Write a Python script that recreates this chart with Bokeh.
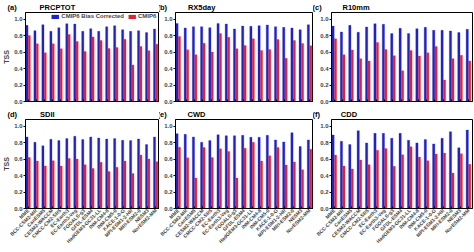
import math
from bokeh.plotting import figure
from bokeh.layouts import gridplot
from bokeh.models import FixedTicker, Range1d, PrintfTickFormatter, Title
from bokeh.embed import file_html
from bokeh.resources import INLINE

models = ["MME", "BCC-CSM2-MR", "CanESM5", "CESM2-WACCM", "CMCC-CM2-SR5", "EC-Earth3",
          "EC-Earth3-Veg", "FGOALS-g3", "GFDL-ESM4", "HadGEM3-GC31-LL", "INM-CM4-8",
          "INM-CM5-0", "KACE-1-0-G", "MPI-ESM1-2-HR", "MRI-ESM2-0", "NESM3", "NorESM2-MM"]

panel_names = ["PRCPTOT", "RX5day", "R10mm", "SDII", "CWD", "CDD"]
panel_letters = ["(a)", "(b)", "(c)", "(d)", "(e)", "(f)"]

bc_prcptot = [0.924, 0.86, 0.932, 0.852, 0.896, 0.944, 0.94, 0.852, 0.884, 0.852, 0.908, 0.92, 0.872, 0.852, 0.86, 0.836, 0.88]
raw_prcptot = [0.80, 0.70, 0.592, 0.70, 0.64, 0.812, 0.728, 0.608, 0.784, 0.74, 0.644, 0.656, 0.756, 0.444, 0.668, 0.616, 0.696]

bc_rx5day = [0.948, 0.892, 0.908, 0.908, 0.896, 0.948, 0.94, 0.88, 0.916, 0.912, 0.92, 0.928, 0.908, 0.90, 0.892, 0.872, 0.932]
raw_rx5day = [0.788, 0.628, 0.568, 0.708, 0.60, 0.824, 0.78, 0.64, 0.68, 0.76, 0.62, 0.632, 0.752, 0.524, 0.74, 0.704, 0.676]

bc_r10mm = [0.916, 0.844, 0.924, 0.84, 0.904, 0.944, 0.936, 0.824, 0.888, 0.824, 0.884, 0.90, 0.864, 0.864, 0.856, 0.836, 0.876]
raw_r10mm = [0.76, 0.568, 0.624, 0.52, 0.492, 0.716, 0.632, 0.556, 0.372, 0.62, 0.552, 0.592, 0.668, 0.26, 0.52, 0.56, 0.492]

bc_sdii = [0.868, 0.804, 0.76, 0.84, 0.824, 0.848, 0.876, 0.836, 0.868, 0.856, 0.844, 0.848, 0.828, 0.824, 0.844, 0.776, 0.868]
raw_sdii = [0.62, 0.576, 0.516, 0.58, 0.516, 0.608, 0.60, 0.532, 0.484, 0.56, 0.448, 0.50, 0.576, 0.424, 0.648, 0.60, 0.568]

bc_cwd = [0.908, 0.90, 0.868, 0.804, 0.824, 0.896, 0.884, 0.884, 0.888, 0.864, 0.864, 0.888, 0.832, 0.808, 0.92, 0.752, 0.832]
raw_cwd = [0.744, 0.616, 0.37, 0.74, 0.62, 0.724, 0.692, 0.37, 0.732, 0.804, 0.576, 0.64, 0.74, 0.528, 0.564, 0.47, 0.72]

bc_cdd = [0.892, 0.816, 0.776, 0.944, 0.796, 0.912, 0.912, 0.852, 0.912, 0.828, 0.796, 0.836, 0.784, 0.852, 0.932, 0.736, 0.952]
raw_cdd = [0.648, 0.516, 0.48, 0.588, 0.532, 0.708, 0.728, 0.512, 0.652, 0.748, 0.624, 0.58, 0.66, 0.672, 0.43, 0.664, 0.536]

bc_all = [bc_prcptot, bc_rx5day, bc_r10mm, bc_sdii, bc_cwd, bc_cdd]
raw_all = [raw_prcptot, raw_rx5day, raw_r10mm, raw_sdii, raw_cwd, raw_cdd]

BLUE = "#2020cc"
RED = "#dc2634"
FONT = "Liberation Sans"
NB = "\u00a0"

col_spec = [(20, 139, 0), (16, 138, 0), (18, 141, 2)]   # left border, frame width, right border
row_spec = [(11, 90, 6), (10, 91, 44)]                  # top border, frame height, bottom border
title_gap = [(-18, 11), (-18, 10), (-19, 10)]           # letter offset, nbsp count

xs = list(range(len(models)))
xb = [x - 0.145 for x in xs]
xr = [x + 0.145 for x in xs]

figs = []
for r in range(2):
    row_figs = []
    for c in range(3):
        k = r * 3 + c
        lb, fw, rb = col_spec[c]
        tb, fh, bb = row_spec[r]
        p = figure(width=lb + fw + rb, height=tb + fh + bb, title=None,
                   x_range=Range1d(-0.33, 16.48), y_range=Range1d(0, 1.08),
                   output_backend="svg", toolbar_location=None,
                   min_border_left=lb, min_border_right=rb,
                   min_border_top=tb, min_border_bottom=bb)
        p.xgrid.visible = False
        p.ygrid.visible = False
        p.outline_line_color = "black"
        p.outline_line_width = 1
        p.background_fill_color = "white"

        if k == 0:
            p.vbar(x=xb, top=bc_all[k], width=0.27, fill_color=BLUE, line_color=BLUE,
                   line_width=0.3, legend_label="CMIP6 Bias Corrected")
            p.vbar(x=xr, top=raw_all[k], width=0.27, fill_color=RED, line_color=RED,
                   line_width=0.3, legend_label="CMIP6")
            lg = p.legend[0]
            lg.orientation = "horizontal"
            lg.location = "top_right"
            lg.margin = 0
            lg.padding = 1
            lg.spacing = 3
            lg.glyph_width = 9
            lg.glyph_height = 5
            lg.label_standoff = 2
            lg.label_height = 5
            lg.label_text_font = FONT
            lg.label_text_font_style = "bold"
            lg.label_text_font_size = "6px"
            lg.border_line_alpha = 0
            lg.background_fill_alpha = 0
        else:
            p.vbar(x=xb, top=bc_all[k], width=0.27, fill_color=BLUE, line_color=BLUE, line_width=0.3)
            p.vbar(x=xr, top=raw_all[k], width=0.27, fill_color=RED, line_color=RED, line_width=0.3)

        # y axis
        p.yaxis.ticker = FixedTicker(ticks=[0.0, 0.2, 0.4, 0.6, 0.8, 1.0])
        p.yaxis.formatter = PrintfTickFormatter(format="%.1f")
        p.yaxis.major_label_text_font = FONT
        p.yaxis.major_label_text_font_style = "bold"
        p.yaxis.major_label_text_font_size = "6px"
        p.yaxis.major_tick_out = 2
        p.yaxis.major_tick_in = 0
        p.yaxis.minor_tick_out = 0
        p.yaxis.minor_tick_in = 0
        p.yaxis.major_label_standoff = 1
        p.yaxis.axis_line_color = "black"
        if c == 0:
            p.yaxis.axis_label = "TSS"
            p.yaxis.axis_label_text_font = FONT
            p.yaxis.axis_label_text_font_style = "bold"
            p.yaxis.axis_label_text_font_size = "7px"
            p.yaxis.axis_label_standoff = 1

        # x axis
        p.xaxis.ticker = FixedTicker(ticks=xs)
        p.xaxis.major_tick_in = 2
        p.xaxis.major_tick_out = 0
        p.xaxis.minor_tick_in = 0
        p.xaxis.minor_tick_out = 0
        if r == 1:
            p.xaxis.major_label_overrides = {i: m for i, m in enumerate(models)}
            p.xaxis.major_label_orientation = math.pi / 4
            p.xaxis.major_label_text_font = FONT
            p.xaxis.major_label_text_font_style = "bold"
            p.xaxis.major_label_text_font_size = "5px"
            p.xaxis.major_label_standoff = 1
        else:
            p.xaxis.major_label_text_font_size = "0px"
            p.xaxis.major_label_standoff = 0

        off, nsp = title_gap[c]
        t = Title(text=panel_letters[k] + NB * nsp + panel_names[k], align="left",
                  offset=off, standoff=1, text_font=FONT, text_font_style="bold",
                  text_font_size="7.5px", text_color="black", vertical_align="bottom")
        p.add_layout(t, "above")
        row_figs.append(p)
    figs.append(row_figs)

grid = gridplot(figs, toolbar_location=None)
open("out.html", "w").write(file_html(grid, INLINE))
